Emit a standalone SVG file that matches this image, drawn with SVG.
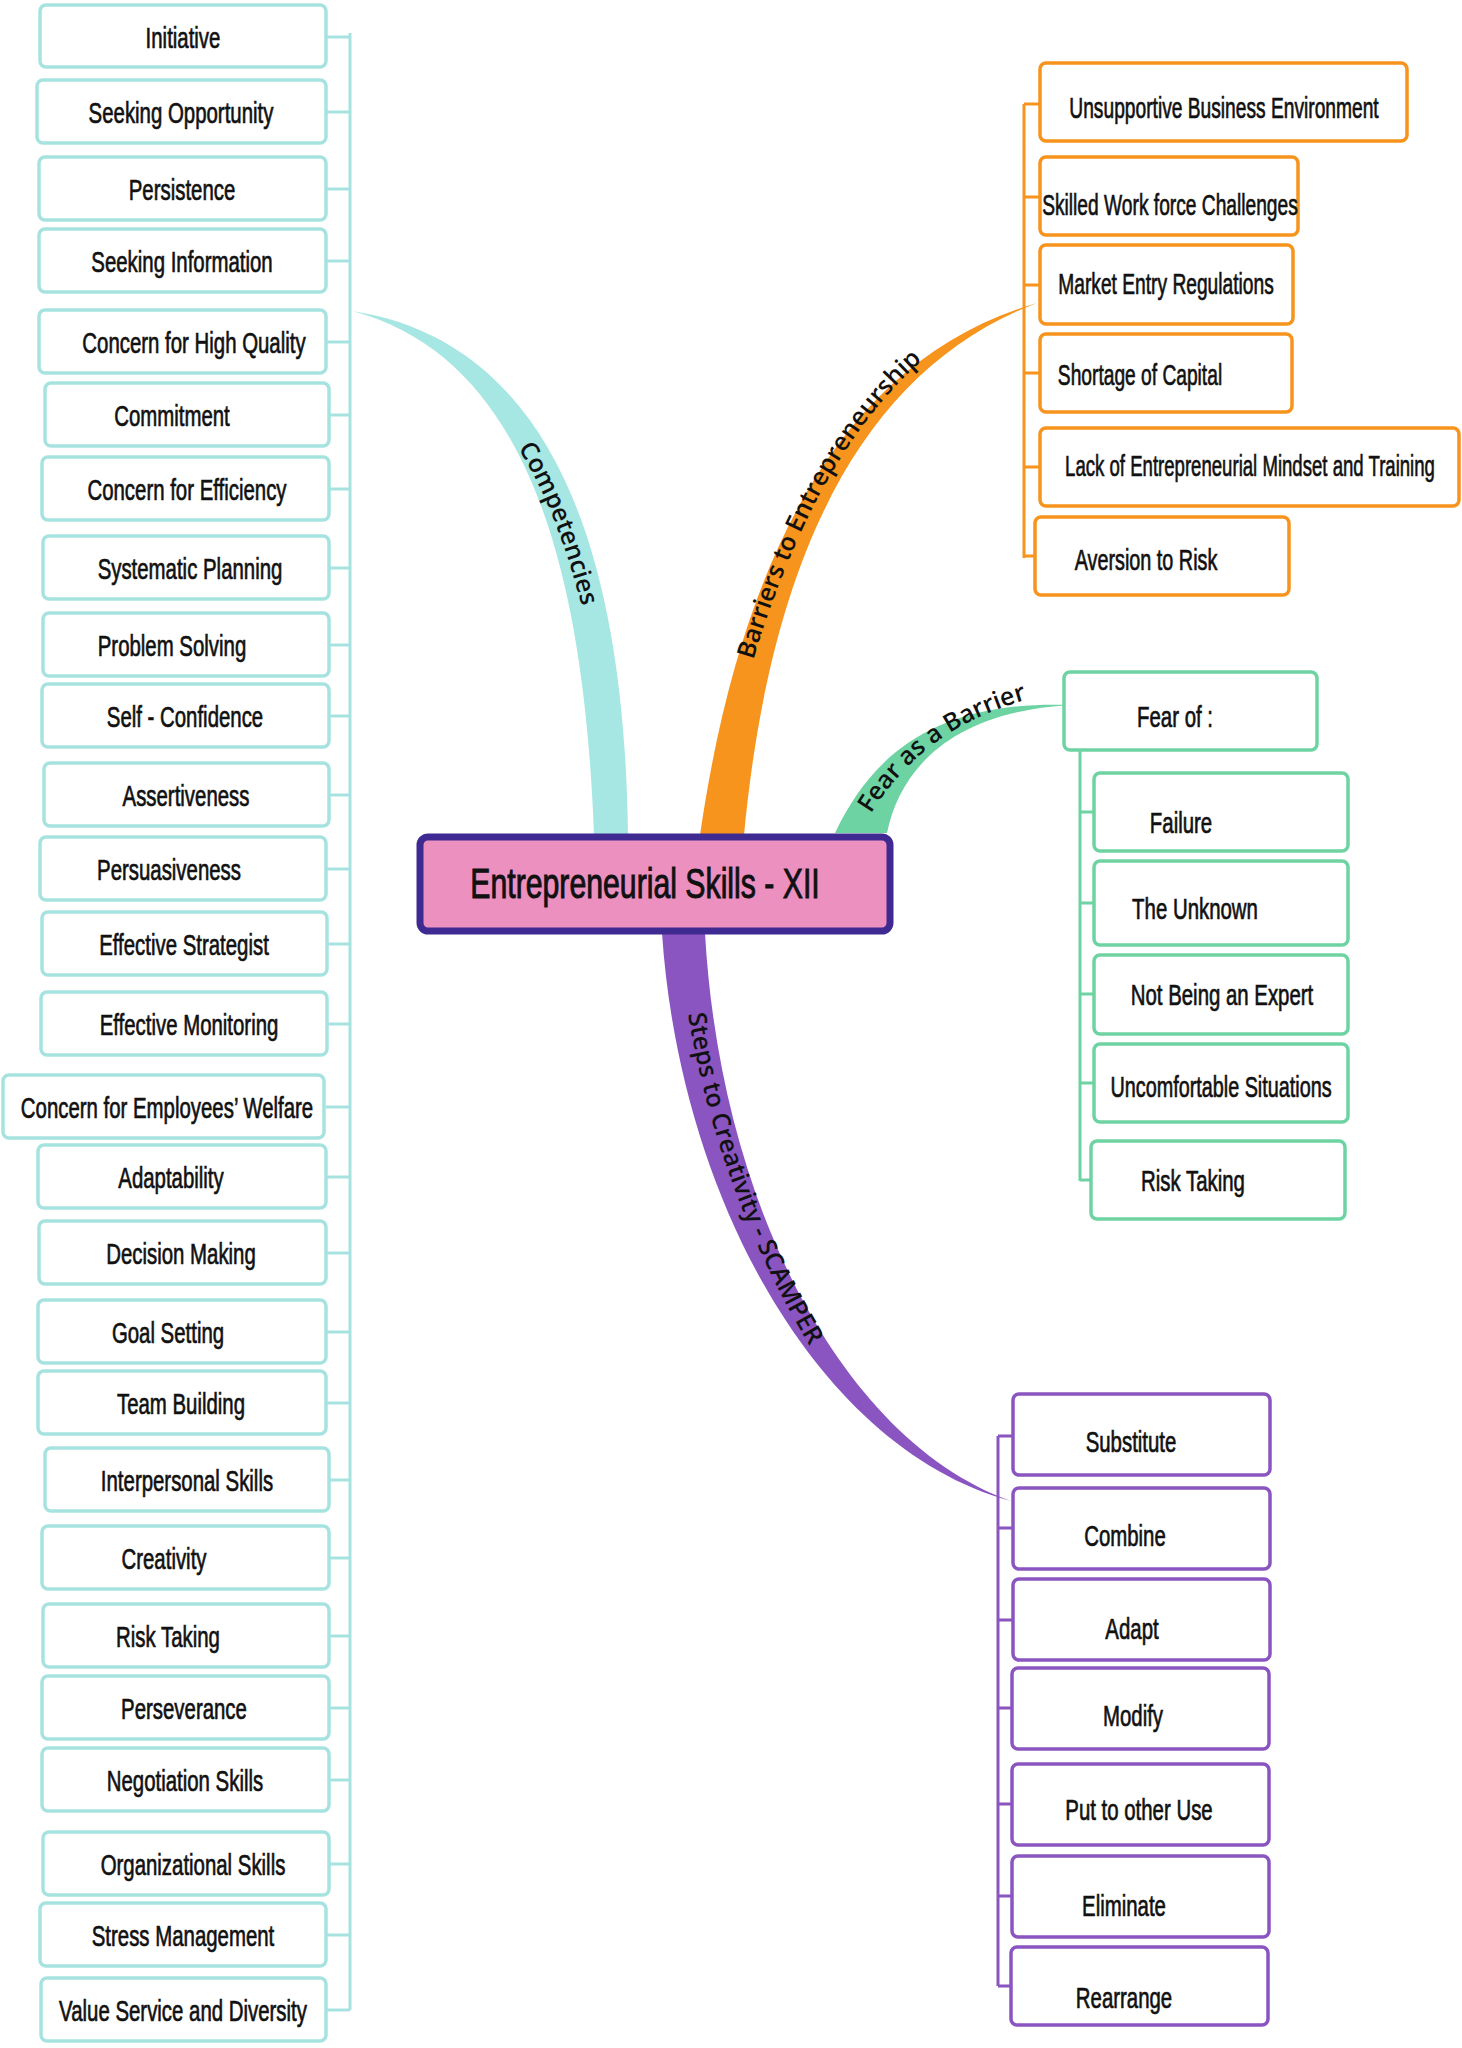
<svg xmlns="http://www.w3.org/2000/svg" width="1462" height="2048" viewBox="0 0 1462 2048">
<style>
.b{fill:#fff;stroke-width:3.5}
.c{stroke:#a6e3e0}.o{stroke:#f7941d}.g{stroke:#6dd3a3}.p{stroke:#8a55c0}
.t{font-family:"Liberation Sans",Arial,sans-serif;font-size:30px;fill:#111;stroke:#111;stroke-width:0.7;text-anchor:middle;dominant-baseline:central}
.l{font-family:"Open Sans","DejaVu Sans",sans-serif;font-size:25px;font-weight:600;fill:#111;text-anchor:middle}
.ln{fill:none;stroke-width:3}
</style>
<defs>
<path id="pc" d="M480,400 C530,450 565,530 590,640"/>
<path id="pb" d="M742,700 C790,520 860,400 955,335"/>
<path id="pf" d="M872,812 C905,760 950,722 1025,700"/>
<path id="ps" d="M680,950 C695,1120 760,1280 845,1400"/>
</defs>
<g id="connectors">
<path d="M594,835 C585,600 540,360 352,311 C575,345 625,600 628,835 Z" fill="#a6e6e3"/>
<path d="M700,835 C740,560 840,360 1037,303 C860,370 770,560 744,835 Z" fill="#f7941d"/>
<path d="M835,833 C870,760 930,700 1070,705 C950,712 900,770 887,833 Z" fill="#6dd3a3"/>
<path d="M662,933 C680,1200 820,1450 1011,1501 C840,1440 720,1200 705,933 Z" fill="#8a55c0"/>
<text class="l"><textPath href="#pc" startOffset="55%">Competencies</textPath></text>
<text class="l"><textPath href="#pb" startOffset="50%">Barriers to Entrepreneurship</textPath></text>
<text class="l"><textPath href="#pf" startOffset="50%">Fear as a Barrier</textPath></text>
<text class="l"><textPath href="#ps" startOffset="50%">Steps to Creativity - SCAMPER</textPath></text>
<g class="ln" stroke="#a6e3e0">
<path d="M350,33V2010"/>
<path d="M326,37H350M326,112H350M326,189H350M326,261H350M326,342H350M326,415H350M326,489H350M326,568H350M326,645H350M326,716H350M326,795H350M326,869H350M326,944H350M326,1024H350M326,1107H350M326,1177H350M326,1253H350M326,1332H350M326,1403H350M326,1480H350M326,1558H350M326,1636H350M326,1708H350M326,1780H350M326,1864H350M326,1935H350M326,2010H350"/>
</g>
<g class="ln" stroke="#f7941d"><path d="M1024,104V558M1024,104H1040M1024,197H1040M1024,285H1040M1024,373H1040M1024,467H1040M1024,556H1035"/></g>
<g class="ln" stroke="#6dd3a3"><path d="M1080,750V1181M1080,812H1094M1080,903H1094M1080,994H1094M1080,1083H1094M1080,1180H1091"/></g>
<g class="ln" stroke="#8a55c0"><path d="M998,1436V1986M998,1436H1013M998,1528H1013M998,1620H1013M998,1708H1013M998,1804H1013M998,1896H1013M998,1986H1013"/></g>
</g>
<g id="center"><rect x="420" y="837" width="470" height="94" rx="8" fill="#ec90c0" stroke="#3f2a91" stroke-width="7"/>
<text class="t" transform="translate(645 884) scale(0.72 1)" style="font-size:42px;stroke-width:1">Entrepreneurial Skills  - XII</text></g>
<g id="comp">
<g id="c1"><rect class="b c" x="40" y="5" width="286" height="62" rx="6"/><text class="t" transform="translate(183 37) scale(0.68 1)">Initiative</text></g>
<g id="c2"><rect class="b c" x="37" y="80" width="289" height="63" rx="6"/><text class="t" transform="translate(181 112) scale(0.68 1)">Seeking Opportunity</text></g>
<g id="c3"><rect class="b c" x="39" y="157" width="287" height="63" rx="6"/><text class="t" transform="translate(182 189) scale(0.68 1)">Persistence</text></g>
<g id="c4"><rect class="b c" x="39" y="229" width="287" height="63" rx="6"/><text class="t" transform="translate(182 261) scale(0.68 1)">Seeking Information</text></g>
<g id="c5"><rect class="b c" x="39" y="310" width="287" height="63" rx="6"/><text class="t" transform="translate(194 342) scale(0.68 1)">Concern for High Quality</text></g>
<g id="c6"><rect class="b c" x="45" y="383" width="284" height="63" rx="6"/><text class="t" transform="translate(172 415) scale(0.68 1)">Commitment</text></g>
<g id="c7"><rect class="b c" x="42" y="457" width="287" height="63" rx="6"/><text class="t" transform="translate(187 489) scale(0.68 1)">Concern for Efficiency</text></g>
<g id="c8"><rect class="b c" x="43" y="536" width="286" height="63" rx="6"/><text class="t" transform="translate(190 568) scale(0.68 1)">Systematic Planning</text></g>
<g id="c9"><rect class="b c" x="43" y="613" width="286" height="63" rx="6"/><text class="t" transform="translate(172 645) scale(0.68 1)">Problem Solving</text></g>
<g id="c10"><rect class="b c" x="42" y="684" width="287" height="63" rx="6"/><text class="t" transform="translate(185 716) scale(0.68 1)">Self - Confidence</text></g>
<g id="c11"><rect class="b c" x="44" y="763" width="285" height="63" rx="6"/><text class="t" transform="translate(186 795) scale(0.68 1)">Assertiveness</text></g>
<g id="c12"><rect class="b c" x="40" y="837" width="286" height="63" rx="6"/><text class="t" transform="translate(169 869) scale(0.68 1)">Persuasiveness</text></g>
<g id="c13"><rect class="b c" x="42" y="912" width="285" height="63" rx="6"/><text class="t" transform="translate(184 944) scale(0.68 1)">Effective Strategist</text></g>
<g id="c14"><rect class="b c" x="41" y="992" width="286" height="63" rx="6"/><text class="t" transform="translate(189 1024) scale(0.68 1)">Effective Monitoring</text></g>
<g id="c15"><rect class="b c" x="3" y="1075" width="321" height="63" rx="6"/><text class="t" transform="translate(167 1107) scale(0.68 1)">Concern for Employees’ Welfare</text></g>
<g id="c16"><rect class="b c" x="38" y="1145" width="288" height="63" rx="6"/><text class="t" transform="translate(171 1177) scale(0.68 1)">Adaptability</text></g>
<g id="c17"><rect class="b c" x="39" y="1221" width="287" height="63" rx="6"/><text class="t" transform="translate(181 1253) scale(0.68 1)">Decision Making</text></g>
<g id="c18"><rect class="b c" x="38" y="1300" width="288" height="63" rx="6"/><text class="t" transform="translate(168 1332) scale(0.68 1)">Goal Setting</text></g>
<g id="c19"><rect class="b c" x="38" y="1371" width="288" height="63" rx="6"/><text class="t" transform="translate(181 1403) scale(0.68 1)">Team Building</text></g>
<g id="c20"><rect class="b c" x="45" y="1448" width="284" height="63" rx="6"/><text class="t" transform="translate(187 1480) scale(0.68 1)">Interpersonal Skills</text></g>
<g id="c21"><rect class="b c" x="42" y="1526" width="287" height="63" rx="6"/><text class="t" transform="translate(164 1558) scale(0.68 1)">Creativity</text></g>
<g id="c22"><rect class="b c" x="43" y="1604" width="286" height="63" rx="6"/><text class="t" transform="translate(168 1636) scale(0.68 1)">Risk Taking</text></g>
<g id="c23"><rect class="b c" x="42" y="1676" width="287" height="63" rx="6"/><text class="t" transform="translate(184 1708) scale(0.68 1)">Perseverance</text></g>
<g id="c24"><rect class="b c" x="42" y="1748" width="287" height="63" rx="6"/><text class="t" transform="translate(185 1780) scale(0.68 1)">Negotiation Skills</text></g>
<g id="c25"><rect class="b c" x="43" y="1832" width="286" height="63" rx="6"/><text class="t" transform="translate(193 1864) scale(0.68 1)">Organizational Skills</text></g>
<g id="c26"><rect class="b c" x="40" y="1903" width="286" height="63" rx="6"/><text class="t" transform="translate(183 1935) scale(0.68 1)">Stress Management</text></g>
<g id="c27"><rect class="b c" x="41" y="1978" width="285" height="63" rx="6"/><text class="t" transform="translate(183 2010) scale(0.68 1)">Value Service and Diversity</text></g>
</g>
<g id="barriers">
<g id="b1"><rect class="b o" x="1040" y="63" width="367" height="78" rx="6"/><text class="t" transform="translate(1224 107) scale(0.64 1)">Unsupportive Business Environment</text></g>
<g id="b2"><rect class="b o" x="1040" y="157" width="258" height="78" rx="6"/><text class="t" transform="translate(1170 204) scale(0.64 1)">Skilled Work force Challenges</text></g>
<g id="b3"><rect class="b o" x="1040" y="245" width="253" height="79" rx="6"/><text class="t" transform="translate(1166 283) scale(0.64 1)">Market Entry Regulations</text></g>
<g id="b4"><rect class="b o" x="1040" y="334" width="252" height="78" rx="6"/><text class="t" transform="translate(1140 374) scale(0.64 1)">Shortage of Capital</text></g>
<g id="b5"><rect class="b o" x="1040" y="428" width="419" height="78" rx="6"/><text class="t" transform="translate(1250 465) scale(0.62 1)">Lack of Entrepreneurial Mindset and  Training</text></g>
<g id="b6"><rect class="b o" x="1035" y="517" width="254" height="78" rx="6"/><text class="t" transform="translate(1146 559) scale(0.66 1)">Aversion to Risk</text></g>
</g>
<g id="fear">
<g id="f0"><rect class="b g" x="1064" y="672" width="253" height="78" rx="6"/><text class="t" transform="translate(1175 716) scale(0.68 1)">Fear of :</text></g>
<g id="f1"><rect class="b g" x="1094" y="773" width="254" height="78" rx="6"/><text class="t" transform="translate(1181 822) scale(0.68 1)">Failure</text></g>
<g id="f2"><rect class="b g" x="1094" y="861" width="254" height="84" rx="6"/><text class="t" transform="translate(1195 908) scale(0.68 1)">The Unknown</text></g>
<g id="f3"><rect class="b g" x="1094" y="955" width="254" height="79" rx="6"/><text class="t" transform="translate(1222 994) scale(0.68 1)">Not Being an Expert</text></g>
<g id="f4"><rect class="b g" x="1094" y="1044" width="254" height="78" rx="6"/><text class="t" transform="translate(1221 1086) scale(0.66 1)">Uncomfortable Situations</text></g>
<g id="f5"><rect class="b g" x="1091" y="1141" width="254" height="78" rx="6"/><text class="t" transform="translate(1193 1180) scale(0.68 1)">Risk Taking</text></g>
</g>
<g id="scamper">
<g id="s1"><rect class="b p" x="1013" y="1394" width="257" height="81" rx="6"/><text class="t" transform="translate(1131 1441) scale(0.68 1)">Substitute</text></g>
<g id="s2"><rect class="b p" x="1013" y="1488" width="257" height="81" rx="6"/><text class="t" transform="translate(1125 1535) scale(0.68 1)">Combine</text></g>
<g id="s3"><rect class="b p" x="1013" y="1579" width="257" height="81" rx="6"/><text class="t" transform="translate(1132 1628) scale(0.68 1)">Adapt</text></g>
<g id="s4"><rect class="b p" x="1012" y="1668" width="257" height="81" rx="6"/><text class="t" transform="translate(1133 1715) scale(0.68 1)">Modify</text></g>
<g id="s5"><rect class="b p" x="1012" y="1764" width="257" height="81" rx="6"/><text class="t" transform="translate(1139 1809) scale(0.68 1)">Put to other Use</text></g>
<g id="s6"><rect class="b p" x="1012" y="1856" width="257" height="81" rx="6"/><text class="t" transform="translate(1124 1905) scale(0.68 1)">Eliminate</text></g>
<g id="s7"><rect class="b p" x="1011" y="1947" width="257" height="78" rx="6"/><text class="t" transform="translate(1124 1997) scale(0.68 1)">Rearrange</text></g>
</g>
</svg>
